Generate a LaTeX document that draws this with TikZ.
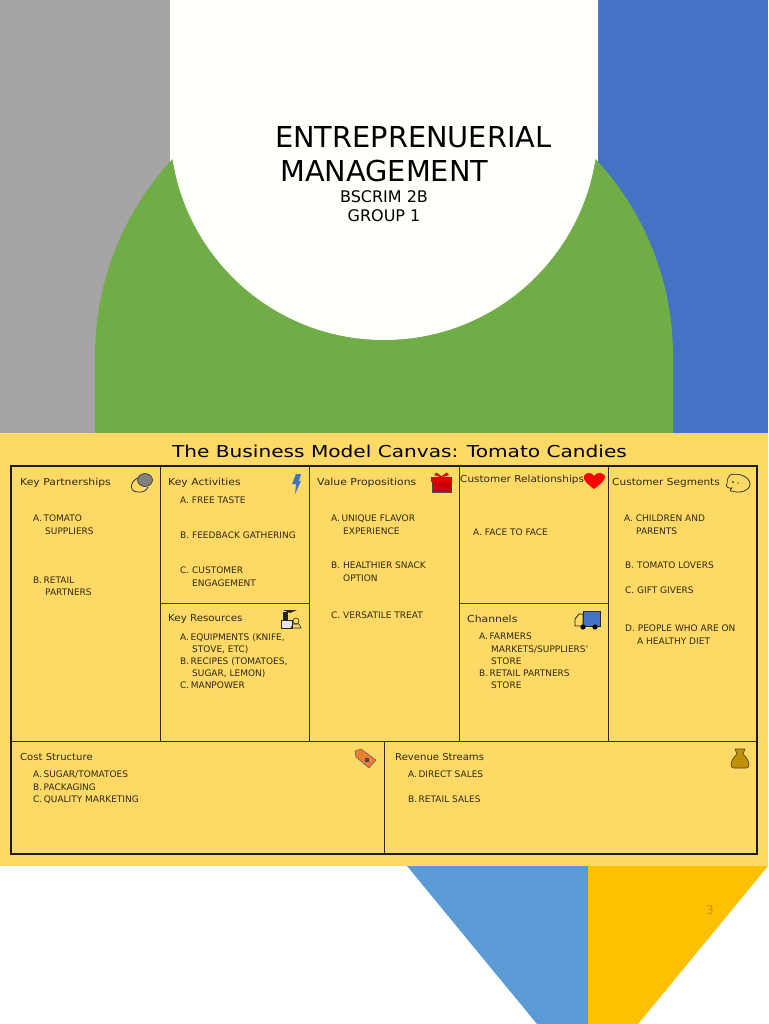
\documentclass[tikz,border=0pt]{standalone}
\usepackage{fontspec}
\usepackage{graphicx}
\setmainfont{DejaVu Sans}
\definecolor{cgray}{HTML}{A5A5A5}
\definecolor{cblue}{HTML}{4472C4}
\definecolor{cgreen}{HTML}{70AD47}
\definecolor{cwhite}{HTML}{FFFFFC}
\definecolor{cpanel}{HTML}{FFD966}
\definecolor{clight}{HTML}{5B9BD5}
\definecolor{cgold}{HTML}{FFC000}
\definecolor{cink}{HTML}{2E2A12}
\definecolor{ctag}{HTML}{ED7D31}
\definecolor{cbag}{HTML}{BF9000}
\newcommand{\wideh}[1]{\scalebox{1.13}[1]{#1}}
\tikzset{
  head/.style={anchor=west,inner sep=0pt,font=\fontsize{9.6}{11}\selectfont,text=cink},
  item/.style={anchor=north west,inner sep=0pt,font=\fontsize{9}{12.2}\selectfont,text=cink,align=left},
  heavy/.style={line width=1.7pt,draw=black!90},
  thin rule/.style={line width=1pt,draw=black!85},
  fine rule/.style={line width=.8pt,draw=black!75}
}
\begin{document}
\begin{tikzpicture}[x=1pt,y=-1pt]
\useasboundingbox (0,0) rectangle (768,1024);
\fill[white] (0,0) rectangle (768,1024);
\fill[cgray] (0,0) rectangle (170,433);
\fill[cblue] (598,0) rectangle (768,433);
\fill[cgreen] (95,433) -- (95,356) arc[start angle=180,end angle=0,x radius=289,y radius=-289] -- (673,433) -- cycle;
\fill[cwhite] (170,0) -- (170,126) arc[start angle=180,end angle=0,x radius=214,y radius=214] -- (598,0) -- cycle;
\node[anchor=west,inner sep=0,font=\fontsize{28.8}{32}\selectfont] (t1) at (275,137) {ENTREPRENUERIAL};
\node[anchor=west,inner sep=0,font=\fontsize{28.8}{32}\selectfont] (t2) at (280,171) {MANAGEMENT};
\node[inner sep=0,font=\fontsize{16}{19}\selectfont] (t3) at (384,197) {BSCRIM 2B};
\node[inner sep=0,font=\fontsize{16}{19}\selectfont] (t4) at (384,216) {GROUP 1};
% bottom shapes
\fill[clight] (407,866) -- (588,866) -- (588,1024) -- (537,1024) -- cycle;
\fill[cgold] (588,866) -- (768,866) -- (638,1024) -- (588,1024) -- cycle;
\node[inner sep=0,font=\fontsize{12}{14}\selectfont,text=black!20!cgold!80!gray] (pg) at (710,910) {3};
% panel
\fill[cpanel] (0,433) rectangle (768,866);
\node[inner sep=0,font=\fontsize{16.4}{19}\selectfont,text=black] (title) at (399.5,451) {\scalebox{1.226}[1]{The Business Model Canvas: Tomato Candies}};
% grid
\draw[fine rule] (160.5,603.5) -- (309.5,603.5);
\draw[fine rule] (459.5,603.5) -- (608.5,603.5);
\draw[thin rule] (160.5,466) -- (160.5,741);
\draw[thin rule] (309.5,466) -- (309.5,741);
\draw[thin rule] (459.5,466) -- (459.5,741);
\draw[thin rule] (608.5,466) -- (608.5,741);
\draw[thin rule] (384.5,741) -- (384.5,854);
\draw[thin rule] (11,741.5) -- (757,741.5);
\draw[heavy] (11,466) rectangle (757,854);
% headings
\node[head] (h1) at (20,482.5) {\wideh{Key Partnerships}};
\node[head] (h2) at (168,482.5) {\wideh{Key Activities}};
\node[head] (h3) at (317,482.5) {\wideh{Value Propositions}};
\node[head] (h4) at (460,479.5) {\scalebox{1.09}[1]{Customer Relationships}};
\node[head] (h5) at (612,482.5) {\scalebox{1.1}[1]{Customer Segments}};
\node[head] (h6) at (168,618.5) {\scalebox{1.07}[1]{Key Resources}};
\node[head] (h7) at (467,618.5) {\wideh{Channels}};
\node[head] (h8) at (20,756.5) {\scalebox{1.05}[1]{Cost Structure}};
\node[head] (h9) at (395,756.5) {\scalebox{1.05}[1]{Revenue Streams}};
% items
\node[item] (a1) at (33,515) {A.\,TOMATO\\\hspace*{12pt}SUPPLIERS};
\node[item] (a2) at (33,577) {B.\,RETAIL\\\hspace*{12pt}PARTNERS};
\node[item] (b1) at (180,497) {A.\ FREE TASTE};
\node[item] (b2) at (180,532) {B.\ FEEDBACK GATHERING};
\node[item] (b3) at (180,567) {C.\ CUSTOMER\\\hspace*{12pt}ENGAGEMENT};
\node[item] (c1) at (180,633) {A.\,EQUIPMENTS (KNIFE,\\\hspace*{12pt}STOVE, ETC)\\B.\,RECIPES (TOMATOES,\\\hspace*{12pt}SUGAR, LEMON)\\C.\,MANPOWER};
\node[item] (d1) at (331,515) {A.\,UNIQUE FLAVOR\\\hspace*{12pt}EXPERIENCE};
\node[item] (d2) at (331,562) {B.\ HEALTHIER SNACK\\\hspace*{12pt}OPTION};
\node[item] (d3) at (331,612) {C.\ VERSATILE TREAT};
\node[item] (e1) at (473,529) {A.\ FACE TO FACE};
\node[item] (f1) at (479,633) {A.\,FARMERS\\\hspace*{12pt}MARKETS/SUPPLIERS'\\\hspace*{12pt}STORE\\B.\,RETAIL PARTNERS\\\hspace*{12pt}STORE};
\node[item] (g1) at (624,515) {A.\ CHILDREN AND\\\hspace*{12pt}PARENTS};
\node[item] (g2) at (625,562) {B.\ TOMATO LOVERS};
\node[item] (g3) at (625,587) {C.\ GIFT GIVERS};
\node[item] (g4) at (625,625) {D.\ PEOPLE WHO ARE ON\\\hspace*{12pt}A HEALTHY DIET};
\node[item] (i1) at (33,771) {A.\,SUGAR/TOMATOES};
\node[item] (i2) at (33,783.5) {B.\,PACKAGING};
\node[item] (i3) at (33,796) {C.\,QUALITY MARKETING};
\node[item] (j1) at (408,771) {A.\,DIRECT SALES};
\node[item] (j2) at (408,796) {B.\,RETAIL SALES};
% icon: partnerships (links)
\draw[line width=.8pt,draw=black!80] (140,477) .. controls (130,480) and (128,492) .. (138,492) .. controls (143,493) and (147,490) .. (148,487);
\filldraw[fill=black!50,draw=black!80,line width=.6pt] (145,480) ellipse[x radius=7.5,y radius=6.5];
% icon: lightning
\fill[cblue] (296,474) -- (301,474) -- (299,481) -- (301,481) -- (295,494) -- (296,484) -- (292,484) -- cycle;
% icon: gift
\filldraw[fill=red!80!black,draw=black!70,line width=.5pt] (432,480) rectangle (451,492);
\fill[red!90!black] (431,477) rectangle (452,482);
\fill[red!90!black] (440,477) -- (436,473) -- (434,475) -- cycle;
\fill[red!90!black] (443,477) -- (447,473) -- (449,475) -- cycle;
\draw[red!85!black,line width=1.2pt] (441.5,477) -- (436,473) (441.5,477) -- (447,473);
% icon: heart
\fill[red] (594,489) .. controls (586,483) and (583,480) .. (584,476) .. controls (586,472) and (592,472) .. (594,476) .. controls (596,472) and (603,472) .. (605,476) .. controls (605,480) and (602,483) .. (594,489) -- cycle;
% icon: face
\draw[line width=.7pt,draw=black!85] (730,475) .. controls (738,472) and (750,477) .. (750,484) .. controls (750,491) and (738,494) .. (733,491) .. controls (730,492) and (729,490) .. (732,488) .. controls (728,489) and (725,486) .. (727,484) .. controls (727,480) and (728,477) .. (730,475) -- cycle;
\fill[black] (733,482) circle[radius=.9];
\fill[black] (738,483) circle[radius=.6];
% icon: resources (factory and person)
\fill[black!85] (283,612) rectangle (288,622);
\fill[black!85] (283,610) -- (297,610) -- (290,613) -- cycle;
\filldraw[fill=black!10,draw=black!85,line width=.6pt] (281,620) rectangle (292,628);
\draw[black!85,line width=.6pt] (296,621) circle[radius=3];
\draw[black!85,line width=.6pt] (291,628) -- (293,624) -- (299,624) -- (301,628) -- cycle;
% icon: truck
\filldraw[fill=cblue,draw=black!85,line width=.5pt] (583,611) rectangle (600,626);
\filldraw[fill=cpanel,draw=black!90,line width=.8pt] (575,626) -- (575,619) -- (579,614) -- (583,614) -- (583,626) -- cycle;
\fill[black] (583,627) circle[radius=2.6];
\fill[black] (595,627) circle[radius=2.6];
% icon: price tag
\filldraw[fill=ctag,draw=black!60,line width=.6pt] (355,751) -- (361,749) -- (376,760) -- (369,768) -- (356,757) -- cycle;
\fill[black!70] (365,758) rectangle (369,762);
% icon: bag
\filldraw[fill=cbag,draw=black!75,line width=.6pt] (735,749) -- (745,749) -- (743,754) .. controls (748,758) and (752,768) .. (746,768) -- (734,768) .. controls (728,768) and (732,758) .. (737,754) -- cycle;
\end{tikzpicture}
\end{document}
